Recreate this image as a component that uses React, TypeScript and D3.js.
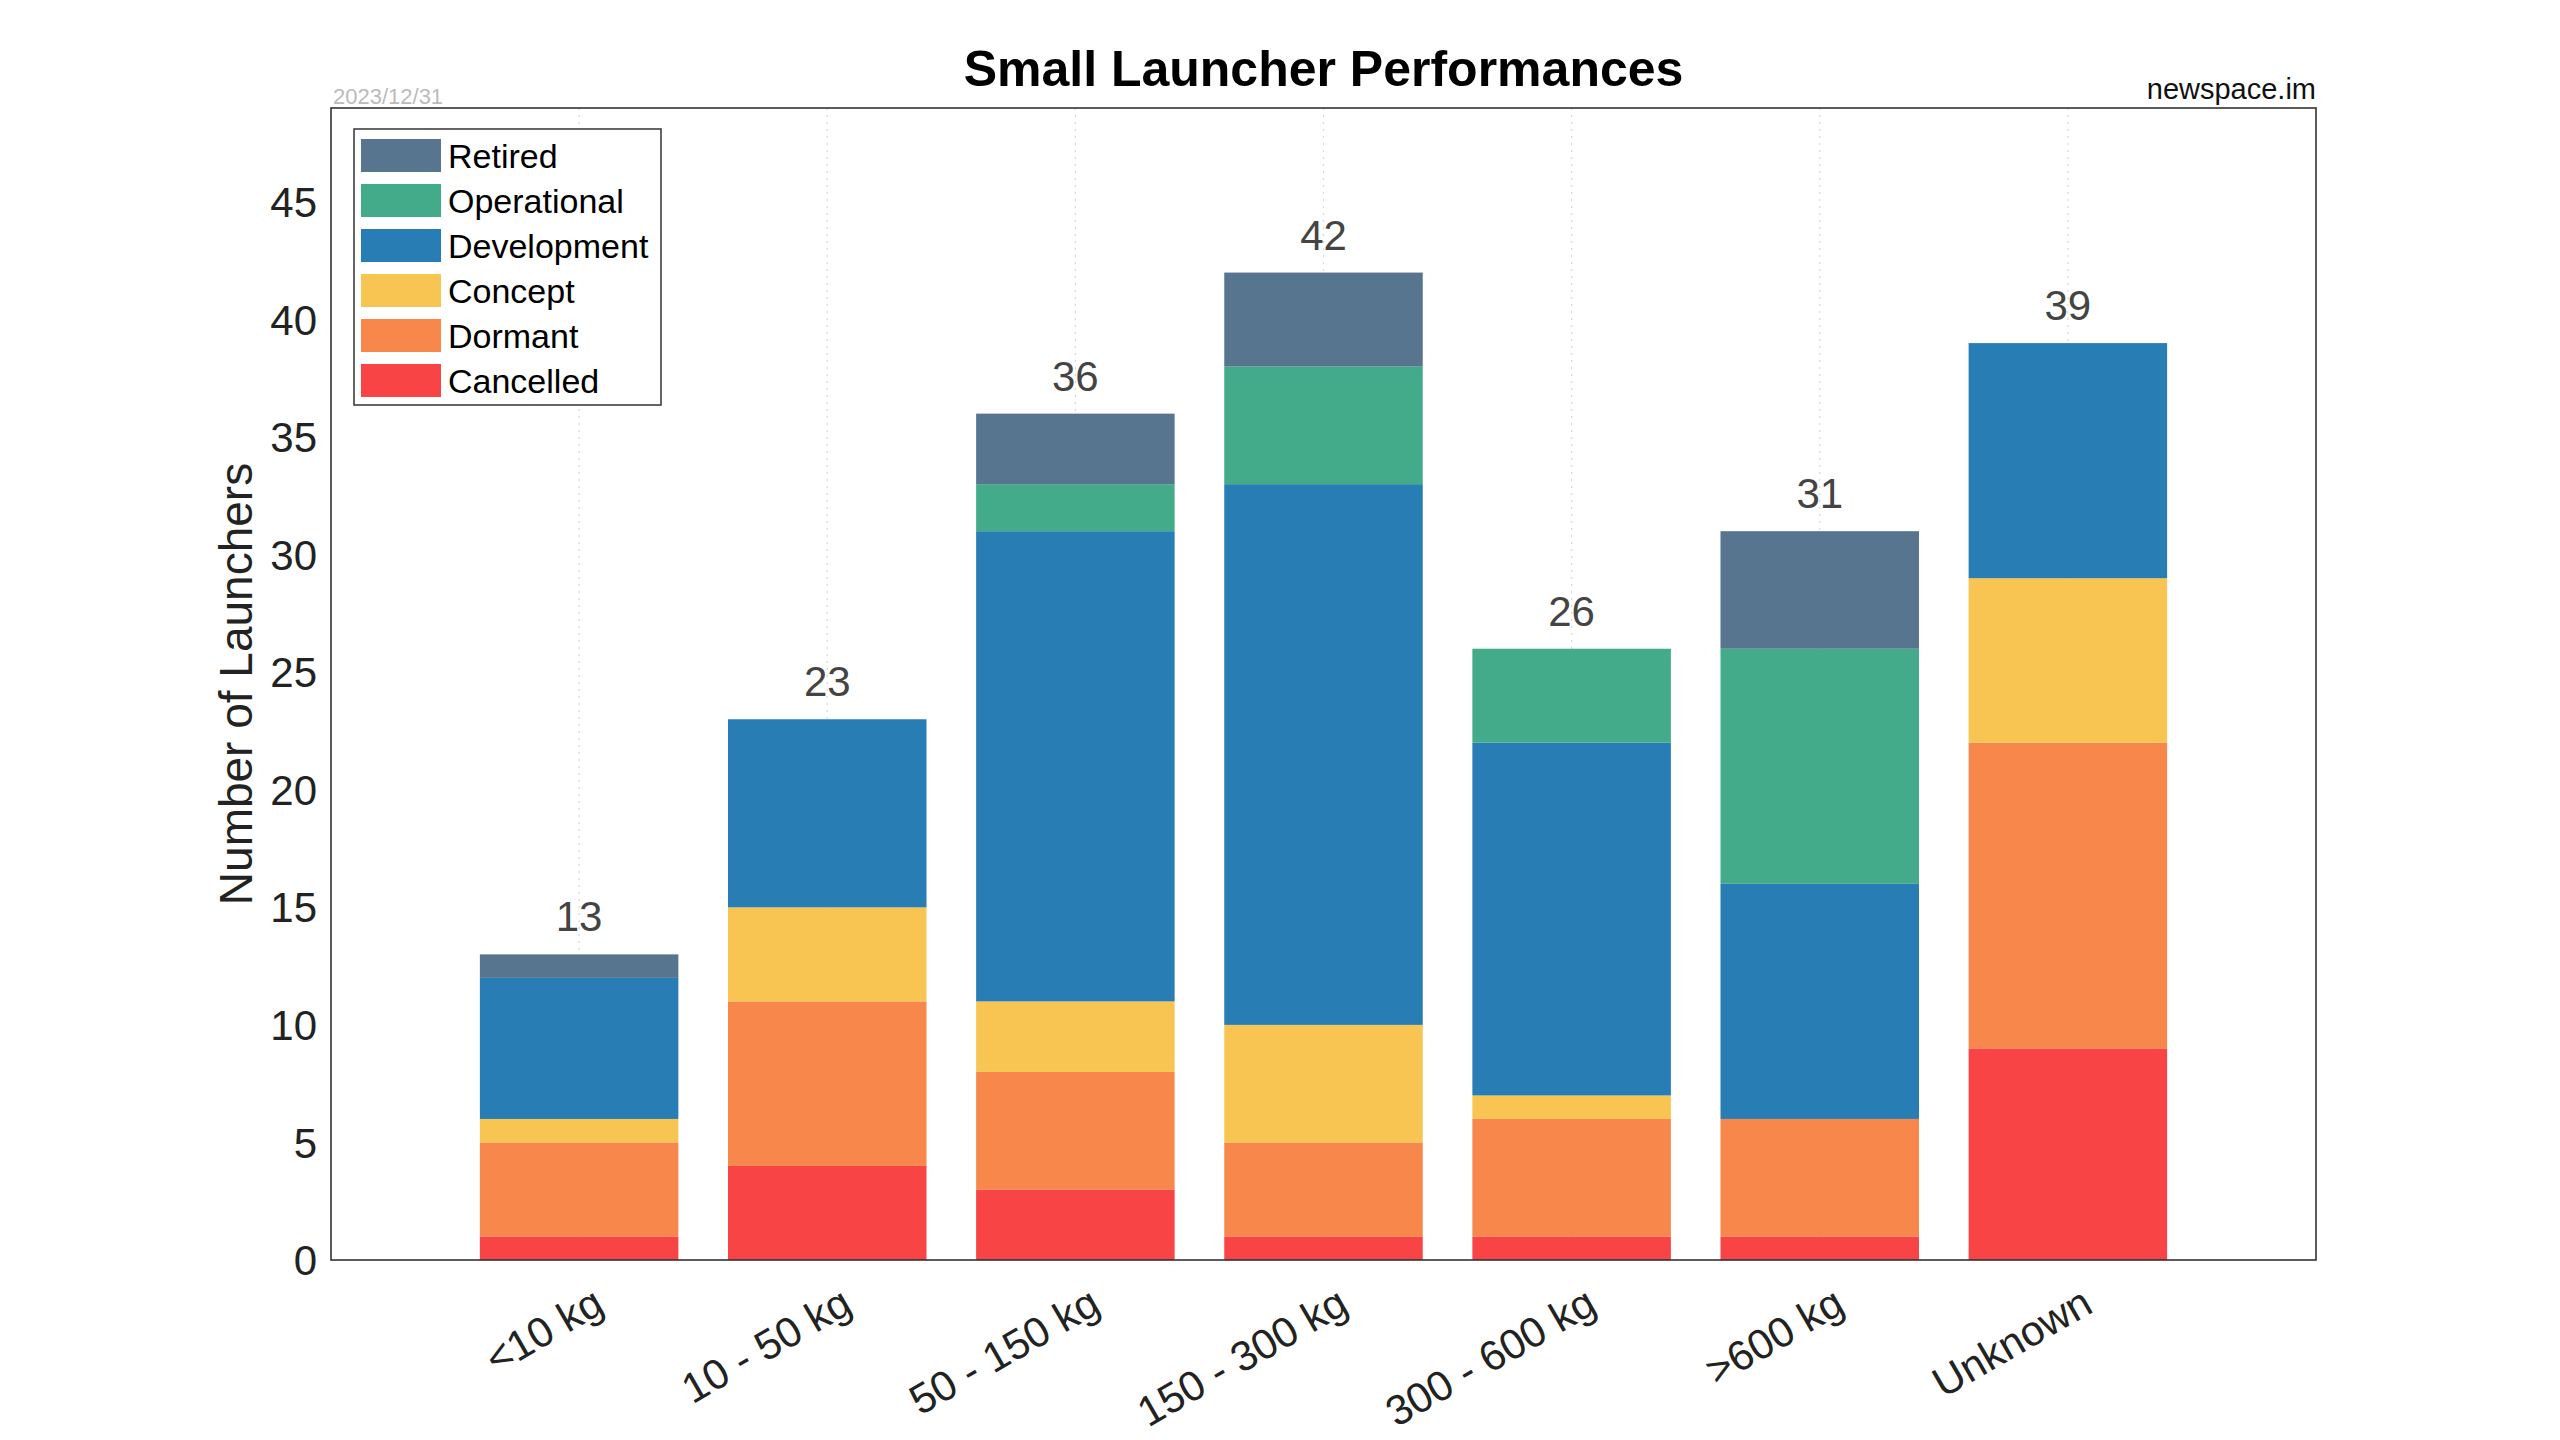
import { useEffect, useRef } from 'react'
import * as d3 from 'd3'

// ── Data ────────────────────────────────────────────────────────────────
const CATEGORIES = ['<10 kg', '10 - 50 kg', '50 - 150 kg', '150 - 300 kg', '300 - 600 kg', '>600 kg', 'Unknown']

// stack order, bottom -> top
const STATUSES = ['Cancelled', 'Dormant', 'Concept', 'Development', 'Operational', 'Retired']

const CANCELLED = [1, 4, 3, 1, 1, 1, 9]
const DORMANT = [4, 7, 5, 4, 5, 5, 13]
const CONCEPT = [1, 4, 3, 5, 1, 0, 7]
const DEVELOPMENT = [6, 8, 20, 23, 15, 10, 10]
const OPERATIONAL = [0, 0, 2, 5, 4, 10, 0]
const RETIRED = [1, 0, 3, 4, 0, 5, 0]

const Y_TICKS = [0, 5, 10, 15, 20, 25, 30, 35, 40, 45]

const COLORS: Record<string, string> = {
  Retired: '#58758f',
  Operational: '#44ab8a',
  Development: '#287db5',
  Concept: '#f8c553',
  Dormant: '#f7874b',
  Cancelled: '#f94446',
}

const FONT = '"Liberation Sans", Arial, Helvetica, sans-serif'

export default function App() {
  const svgRef = useRef<SVGSVGElement>(null)

  useEffect(() => {
    document.body.style.margin = '0'
    const W = 2560, H = 1440
    const svg = d3.select(svgRef.current)
    svg.selectAll('*').remove()
    svg.attr('width', W).attr('height', H)

    const left = 331, right = 2316, top = 108, bottom = 1260

    const rows = CATEGORIES.map((c, i) => ({
      cat: c,
      Cancelled: CANCELLED[i],
      Dormant: DORMANT[i],
      Concept: CONCEPT[i],
      Development: DEVELOPMENT[i],
      Operational: OPERATIONAL[i],
      Retired: RETIRED[i],
    }))
    const totals = rows.map((r) => STATUSES.reduce((s, k) => s + (r as any)[k], 0))

    const x = d3.scaleBand<string>().domain(CATEGORIES).range([left, right])
      .paddingInner(0.2).paddingOuter(0.6)
    const y = d3.scaleLinear().domain([0, 49]).range([bottom, top])

    const g = svg.append('g').attr('font-family', FONT)
    g.append('rect').attr('width', W).attr('height', H).attr('fill', '#fff')

    // dotted vertical grid at category centres
    CATEGORIES.forEach((c) => {
      const cx = x(c)! + x.bandwidth() / 2
      g.append('line')
        .attr('x1', cx).attr('x2', cx).attr('y1', top).attr('y2', bottom)
        .attr('stroke', '#d8d8d8').attr('stroke-width', 1.2).attr('stroke-dasharray', '2,5')
    })

    // stacked bars
    const series = d3.stack<any>().keys(STATUSES)(rows)
    series.forEach((s) => {
      g.append('g').attr('fill', COLORS[s.key])
        .selectAll('rect').data(s).join('rect')
        .attr('x', (d: any) => x(d.data.cat)!)
        .attr('width', x.bandwidth())
        .attr('y', (d: any) => y(d[1]))
        .attr('height', (d: any) => Math.max(0, y(d[0]) - y(d[1])))
    })

    // totals
    CATEGORIES.forEach((c, i) => {
      g.append('text')
        .attr('x', x(c)! + x.bandwidth() / 2)
        .attr('y', y(totals[i]) - 23)
        .attr('text-anchor', 'middle')
        .attr('font-size', 42).attr('fill', '#444')
        .text(totals[i])
    })

    // frame
    g.append('rect')
      .attr('x', left).attr('y', top).attr('width', right - left).attr('height', bottom - top)
      .attr('fill', 'none').attr('stroke', '#333').attr('stroke-width', 1.6)

    // y tick labels
    Y_TICKS.forEach((v) => {
      g.append('text')
        .attr('x', 317).attr('y', y(v))
        .attr('dy', '0.36em')
        .attr('text-anchor', 'end')
        .attr('font-size', 42).attr('fill', '#222')
        .text(v)
    })

    // x tick labels (rotated)
    CATEGORIES.forEach((c) => {
      const cx = x(c)! + x.bandwidth() / 2
      g.append('text')
        .attr('transform', `translate(${cx + 27},${1311}) rotate(-30)`)
        .attr('text-anchor', 'end')
        .attr('font-size', 42).attr('fill', '#222')
        .text(c)
    })

    // y axis title
    g.append('text')
      .attr('transform', `translate(252,${(top + bottom) / 2}) rotate(-90)`)
      .attr('text-anchor', 'middle')
      .attr('font-size', 46).attr('fill', '#222')
      .text('Number of Launchers')

    // title + corner notes
    g.append('text')
      .attr('x', (left + right) / 2).attr('y', 86)
      .attr('text-anchor', 'middle')
      .attr('font-size', 50).attr('font-weight', 'bold').attr('fill', '#000')
      .text('Small Launcher Performances')

    g.append('text')
      .attr('x', left + 2).attr('y', 104)
      .attr('font-size', 22).attr('fill', '#bbb')
      .text('2023/12/31')

    g.append('text')
      .attr('x', right).attr('y', 99)
      .attr('text-anchor', 'end')
      .attr('font-size', 29).attr('fill', '#111')
      .text('newspace.im')

    // legend
    const legendKeys = [...STATUSES].reverse()
    const lg = g.append('g')
    lg.append('rect')
      .attr('x', 354).attr('y', 129).attr('width', 307).attr('height', 276)
      .attr('fill', '#fff').attr('stroke', '#333').attr('stroke-width', 1.5)
    legendKeys.forEach((k, i) => {
      const cy = 155.5 + i * 45
      lg.append('rect')
        .attr('x', 361).attr('y', cy - 16.5).attr('width', 80).attr('height', 33)
        .attr('fill', COLORS[k])
      lg.append('text')
        .attr('x', 448).attr('y', cy).attr('dy', '0.36em')
        .attr('font-size', 34).attr('fill', '#000')
        .text(k)
    })
  }, [])

  return <svg ref={svgRef} style={{ display: 'block' }} />
}
